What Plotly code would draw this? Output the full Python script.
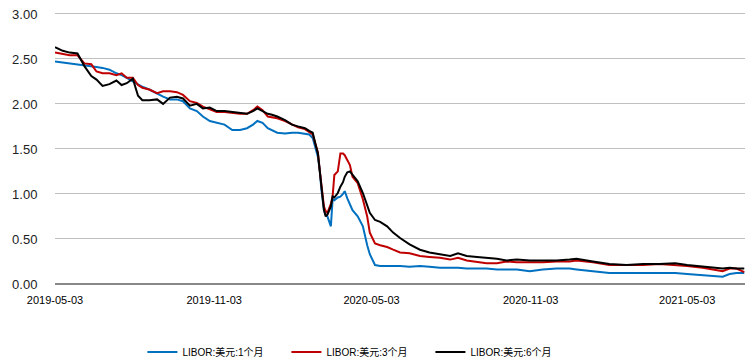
import plotly.graph_objects as go

dates = [
    "2019-05-03", "2019-05-12", "2019-05-20", "2019-05-29", "2019-06-06", "2019-06-14", "2019-06-20",
    "2019-06-27", "2019-07-05", "2019-07-13", "2019-07-19", "2019-07-25", "2019-08-01", "2019-08-07",
    "2019-08-12", "2019-08-20", "2019-08-29", "2019-09-05", "2019-09-13", "2019-09-21", "2019-09-28",
    "2019-10-06", "2019-10-14", "2019-10-21", "2019-10-29", "2019-11-06", "2019-11-15", "2019-11-24",
    "2019-12-03", "2019-12-11", "2019-12-18", "2019-12-23", "2019-12-29", "2020-01-04", "2020-01-09",
    "2020-01-15", "2020-01-24", "2020-02-01", "2020-02-08", "2020-02-16", "2020-02-21", "2020-02-25",
    "2020-02-28", "2020-03-02", "2020-03-04", "2020-03-06", "2020-03-09", "2020-03-11", "2020-03-13",
    "2020-03-17", "2020-03-19", "2020-03-21", "2020-03-25", "2020-03-28", "2020-03-31", "2020-04-02",
    "2020-04-05", "2020-04-08", "2020-04-11", "2020-04-17", "2020-04-23", "2020-04-28", "2020-05-01",
    "2020-05-07", "2020-05-13", "2020-05-21", "2020-05-28", "2020-06-05", "2020-06-16", "2020-06-28",
    "2020-07-09", "2020-07-21", "2020-08-02", "2020-08-11", "2020-08-21", "2020-09-02", "2020-09-13",
    "2020-09-25", "2020-10-06", "2020-10-18", "2020-11-02", "2020-11-17", "2020-12-03", "2020-12-18",
    "2020-12-26", "2021-01-14", "2021-02-02", "2021-02-22", "2021-03-13", "2021-04-01", "2021-04-19",
    "2021-05-03", "2021-05-21", "2021-06-04", "2021-06-13", "2021-06-21", "2021-06-29", "2021-07-08",
]

libor_1m = [
    2.46, 2.45, 2.44, 2.43, 2.42, 2.41, 2.40,
    2.39, 2.37, 2.33, 2.31, 2.28, 2.24, 2.20,
    2.18, 2.15, 2.10, 2.07, 2.04, 2.04, 2.02,
    1.94, 1.91, 1.85, 1.80, 1.78, 1.76, 1.70,
    1.70, 1.72, 1.76, 1.80, 1.78, 1.72, 1.70,
    1.67, 1.66, 1.67, 1.67, 1.66, 1.65, 1.61,
    1.50, 1.40, 1.26, 1.04, 0.81, 0.76, 0.74,
    0.63, 0.93, 0.92, 0.95, 0.96, 0.99, 1.02,
    0.94, 0.88, 0.81, 0.74, 0.63, 0.42, 0.32,
    0.20, 0.19, 0.19, 0.19, 0.19, 0.18, 0.19,
    0.18, 0.17, 0.17, 0.17, 0.16, 0.16, 0.16,
    0.15, 0.15, 0.15, 0.13, 0.15, 0.16, 0.16,
    0.15, 0.13, 0.11, 0.11, 0.11, 0.11, 0.11,
    0.10, 0.09, 0.08, 0.07, 0.10, 0.11, 0.11,
]

libor_3m = [
    2.56, 2.54, 2.53, 2.53, 2.44, 2.43, 2.35,
    2.33, 2.33, 2.31, 2.33, 2.28, 2.28, 2.20,
    2.17, 2.15, 2.11, 2.13, 2.13, 2.12, 2.09,
    2.02, 2.00, 1.96, 1.93, 1.90, 1.90, 1.89,
    1.88, 1.88, 1.92, 1.96, 1.92, 1.85, 1.84,
    1.83, 1.80, 1.76, 1.73, 1.71, 1.68, 1.65,
    1.55, 1.45, 1.26, 1.07, 0.85, 0.80, 0.78,
    0.88, 0.96, 1.20, 1.24, 1.44, 1.44, 1.42,
    1.37, 1.31, 1.18, 1.11, 0.93, 0.74, 0.56,
    0.44, 0.42, 0.40, 0.37, 0.34, 0.33, 0.30,
    0.29, 0.28, 0.26, 0.28, 0.25, 0.23, 0.22,
    0.22, 0.24, 0.23, 0.23, 0.23, 0.24, 0.24,
    0.25, 0.23, 0.20, 0.20, 0.20, 0.21, 0.20,
    0.19, 0.17, 0.15, 0.13, 0.16, 0.16, 0.12,
]

libor_6m = [
    2.62, 2.58, 2.56, 2.55, 2.41, 2.30, 2.26,
    2.19, 2.21, 2.25, 2.20, 2.22, 2.27, 2.08,
    2.03, 2.03, 2.04, 1.99, 2.06, 2.07, 2.05,
    1.97, 1.99, 1.94, 1.95, 1.91, 1.91, 1.90,
    1.89, 1.88, 1.91, 1.94, 1.91, 1.88, 1.87,
    1.85, 1.81, 1.76, 1.74, 1.72, 1.69, 1.67,
    1.55, 1.44, 1.26, 1.07, 0.81, 0.74, 0.76,
    0.85, 0.96, 0.95, 1.00, 1.07, 1.12, 1.18,
    1.23, 1.24, 1.20, 1.13, 1.00, 0.85, 0.78,
    0.70, 0.68, 0.63, 0.56, 0.50, 0.43, 0.37,
    0.34, 0.32, 0.30, 0.33, 0.30, 0.29, 0.28,
    0.27, 0.25, 0.26, 0.25, 0.25, 0.25, 0.26,
    0.27, 0.24, 0.21, 0.20, 0.21, 0.21, 0.22,
    0.20, 0.18, 0.17, 0.16, 0.17, 0.16, 0.16,
]

series_names = ["LIBOR:美元:1个月", "LIBOR:美元:3个月", "LIBOR:美元:6个月"]
series_colors = ["#0070C0", "#C00000", "#000000"]

x_tick_vals = ["2019-05-03", "2019-11-03", "2020-05-03", "2020-11-03", "2021-05-03"]
x_tick_text = ["2019-05-03", "2019-11-03", "2020-05-03", "2020-11-03", "2021-05-03"]
y_tick_vals = [0, 0.5, 1.0, 1.5, 2.0, 2.5, 3.0]

fig = go.Figure()
for name, vals, color in zip(series_names, [libor_1m, libor_3m, libor_6m], series_colors):
    fig.add_trace(go.Scatter(x=dates, y=vals, mode="lines", name=name,
                             line=dict(color=color, width=2)))

# the page adds an 8px body margin, so the figure is sized 745x352
fig.update_layout(
    width=745, height=352,
    margin=dict(l=47, r=7, t=3, b=77, autoexpand=False),
    paper_bgcolor="white", plot_bgcolor="white",
    font=dict(family="Liberation Sans, Noto Sans CJK SC", color="#222222"),
    showlegend=True,
    legend=dict(orientation="h", x=0.1265, xanchor="left", y=-0.2537, yanchor="middle",
                font=dict(size=10, family="Liberation Sans, Noto Sans CJK SC", color="#000000"),
                entrywidth=99, entrywidthmode="pixels", bgcolor="rgba(0,0,0,0)"),
)
fig.update_xaxes(
    type="date", range=["2019-05-03", "2021-07-10"],
    tickmode="array", tickvals=x_tick_vals, ticktext=x_tick_text,
    showgrid=False, showline=True, linecolor="#888888", linewidth=1.5,
    ticks="outside", ticklen=6, tickcolor="rgba(0,0,0,0)",
    tickfont=dict(size=11, color="#000000"), zeroline=False,
    ticklabeloverflow="allow",
)
fig.update_yaxes(
    range=[0, 3.0222], tickmode="array", tickvals=y_tick_vals, tickformat=".2f",
    showgrid=True, gridcolor="#C0C0C0", gridwidth=1, zeroline=False, showline=False,
    ticks="outside", ticklen=14, tickcolor="rgba(0,0,0,0)",
    tickfont=dict(size=13, color="#222222"),
    ticklabeloverflow="allow", ticklabelshift=1,
)

fig.write_html("out.html")
